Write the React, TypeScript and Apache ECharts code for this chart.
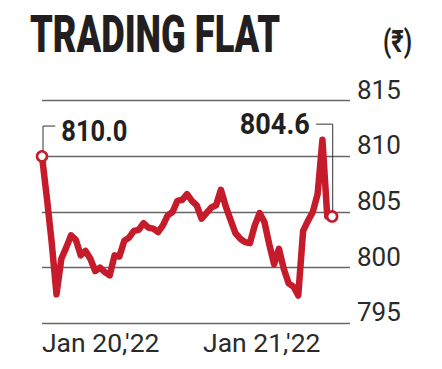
import React, { useEffect, useRef } from "react";
import * as echarts from "echarts";

const titleText = "TRADING FLAT";
const unitText = "(₹)";

// Share price (₹), evenly spaced intraday samples, Jan 20 – Jan 21, 2022
const prices: number[] = [
  810.0, 806.3, 802.3, 797.6, 800.8, 801.8, 802.9, 802.5, 801.1, 801.5,
  800.8, 799.7, 800.0, 799.6, 799.3, 801.1, 801.0, 802.4, 802.7, 803.3,
  803.4, 804.0, 803.6, 803.5, 803.2, 803.8, 804.7, 805.0, 806.0, 806.1,
  806.6, 806.0, 805.6, 804.4, 804.9, 805.4, 805.6, 807.0, 805.5, 804.3,
  803.1, 802.6, 802.3, 802.2, 803.8, 804.9, 804.1, 802.1, 800.3, 801.7,
  799.9, 798.6, 798.3, 797.5, 803.3, 804.2, 805.0, 806.6, 811.5, 804.6,
  804.6,
];

const yTicks: number[] = [795, 800, 805, 810, 815];
const xTickLabels: string[] = ["Jan 20,'22", "Jan 21,'22"];
const xTickIndex: number[] = [0, 33.3];
const xAxisMax = 63.7;

const RED = "#c61b2a";
const INK = "#231f20";
const FONT = "Roboto, 'Noto Sans', 'DejaVu Sans', sans-serif";

function measure(text: string, font: string): number {
  const c = document.createElement("canvas").getContext("2d");
  if (!c) return 1;
  c.font = font;
  return c.measureText(text).width || 1;
}

export default function App() {
  const ref = useRef<HTMLDivElement>(null);

  useEffect(() => {
    if (!ref.current) return;
    const chart = echarts.init(ref.current, undefined, { renderer: "svg" });
    const lineData = prices.map((v, i) => [i, v]);
    const last = prices.length - 1;
    const endPoints = [
      [0, prices[0]],
      [last, prices[last]],
    ];

    chart.setOption({
      animation: false,
      backgroundColor: "#ffffff",
      grid: { left: 42, right: 92, top: 100.7, bottom: 45.7 },
      xAxis: {
        type: "value",
        min: 0,
        max: xAxisMax,
        splitLine: { show: false },
        axisLine: { show: false },
        axisTick: { show: false },
        axisLabel: {
          customValues: xTickIndex,
          formatter: (v: number) => {
            const k = xTickIndex.findIndex((t) => Math.abs(t - v) < 1e-6);
            return k >= 0 ? xTickLabels[k] : "";
          },
          align: "left",
          verticalAlign: "middle",
          margin: 19.4,
          fontFamily: FONT,
          fontSize: 26.5,
          color: "#2a2a2a",
          hideOverlap: false,
        },
      },
      yAxis: {
        type: "value",
        position: "right",
        min: yTicks[0],
        max: yTicks[yTicks.length - 1],
        interval: yTicks[1] - yTicks[0],
        axisLine: { show: false },
        axisTick: { show: false },
        splitLine: { show: true, lineStyle: { color: "#666", width: 1.4 } },
        axisLabel: {
          margin: 7,
          fontFamily: FONT,
          fontSize: 26,
          color: "#2a2a2a",
          verticalAlign: "bottom",
          lineHeight: 22,
        },
      },
      series: [
        {
          type: "line",
          data: lineData,
          symbol: "none",
          lineStyle: { color: RED, width: 6.5, cap: "round", join: "round" },
          z: 2,
        },
        {
          type: "scatter",
          data: endPoints,
          symbol: "circle",
          symbolSize: 10,
          itemStyle: { color: "#ffffff", borderColor: RED, borderWidth: 2.6, opacity: 1 },
          z: 5,
        },
      ],
    });

    const p0 = chart.convertToPixel({ gridIndex: 0 }, [0, prices[0]]) as number[];
    const p1 = chart.convertToPixel({ gridIndex: 0 }, [last, prices[last]]) as number[];

    const titleFont = `900 51px ${FONT}`;
    const titleScale = 250 / measure(titleText, titleFont);
    const annFont = `bold 30px ${FONT}`;
    const startText = prices[0].toFixed(1);
    const endText = prices[last].toFixed(1);
    const sScale = 66 / measure(startText, annFont);
    const eScale = 70 / measure(endText, annFont);
    const unitFont = `bold 31px ${FONT}`;
    const uScale = 29 / measure(unitText, unitFont);

    chart.setOption({
      graphic: [
        {
          type: "text",
          x: 30,
          y: 35,
          scaleX: titleScale,
          style: {
            text: titleText,
            font: titleFont,
            fill: INK,
            align: "left",
            verticalAlign: "middle",
          },
        },
        {
          type: "text",
          x: 383,
          y: 41.7,
          scaleX: uScale,
          style: {
            text: unitText,
            font: unitFont,
            fill: INK,
            align: "left",
            verticalAlign: "middle",
          },
        },
        {
          type: "polyline",
          shape: {
            points: [
              [p0[0] + 1, p0[1] - 5],
              [p0[0] + 1, p0[1] - 30.3],
              [p0[0] + 13.3, p0[1] - 30.3],
            ],
          },
          style: { stroke: "#333", lineWidth: 1, fill: "none" },
          z: 3,
        },
        {
          type: "text",
          x: p0[0] + 19.3,
          y: p0[1] - 25.2,
          scaleX: sScale,
          style: {
            text: startText,
            font: annFont,
            fill: INK,
            align: "left",
            verticalAlign: "middle",
          },
        },
        {
          type: "polyline",
          shape: {
            points: [
              [p1[0] - 16, p1[1] - 92.3],
              [p1[0] + 0.6, p1[1] - 92.3],
              [p1[0] + 0.6, p1[1] - 5],
            ],
          },
          style: { stroke: "#333", lineWidth: 1, fill: "none" },
          z: 3,
        },
        {
          type: "text",
          x: p1[0] - 22.3,
          y: p1[1] - 92.5,
          scaleX: eScale,
          originX: 0,
          style: {
            text: endText,
            font: annFont,
            fill: INK,
            align: "right",
            verticalAlign: "middle",
          },
        },
      ],
    });

    return () => chart.dispose();
  }, []);

  return (
    <div
      ref={ref}
      style={{
        position: "absolute",
        left: 0,
        top: 0,
        width: 442,
        height: 369,
        background: "#fff",
      }}
    />
  );
}
